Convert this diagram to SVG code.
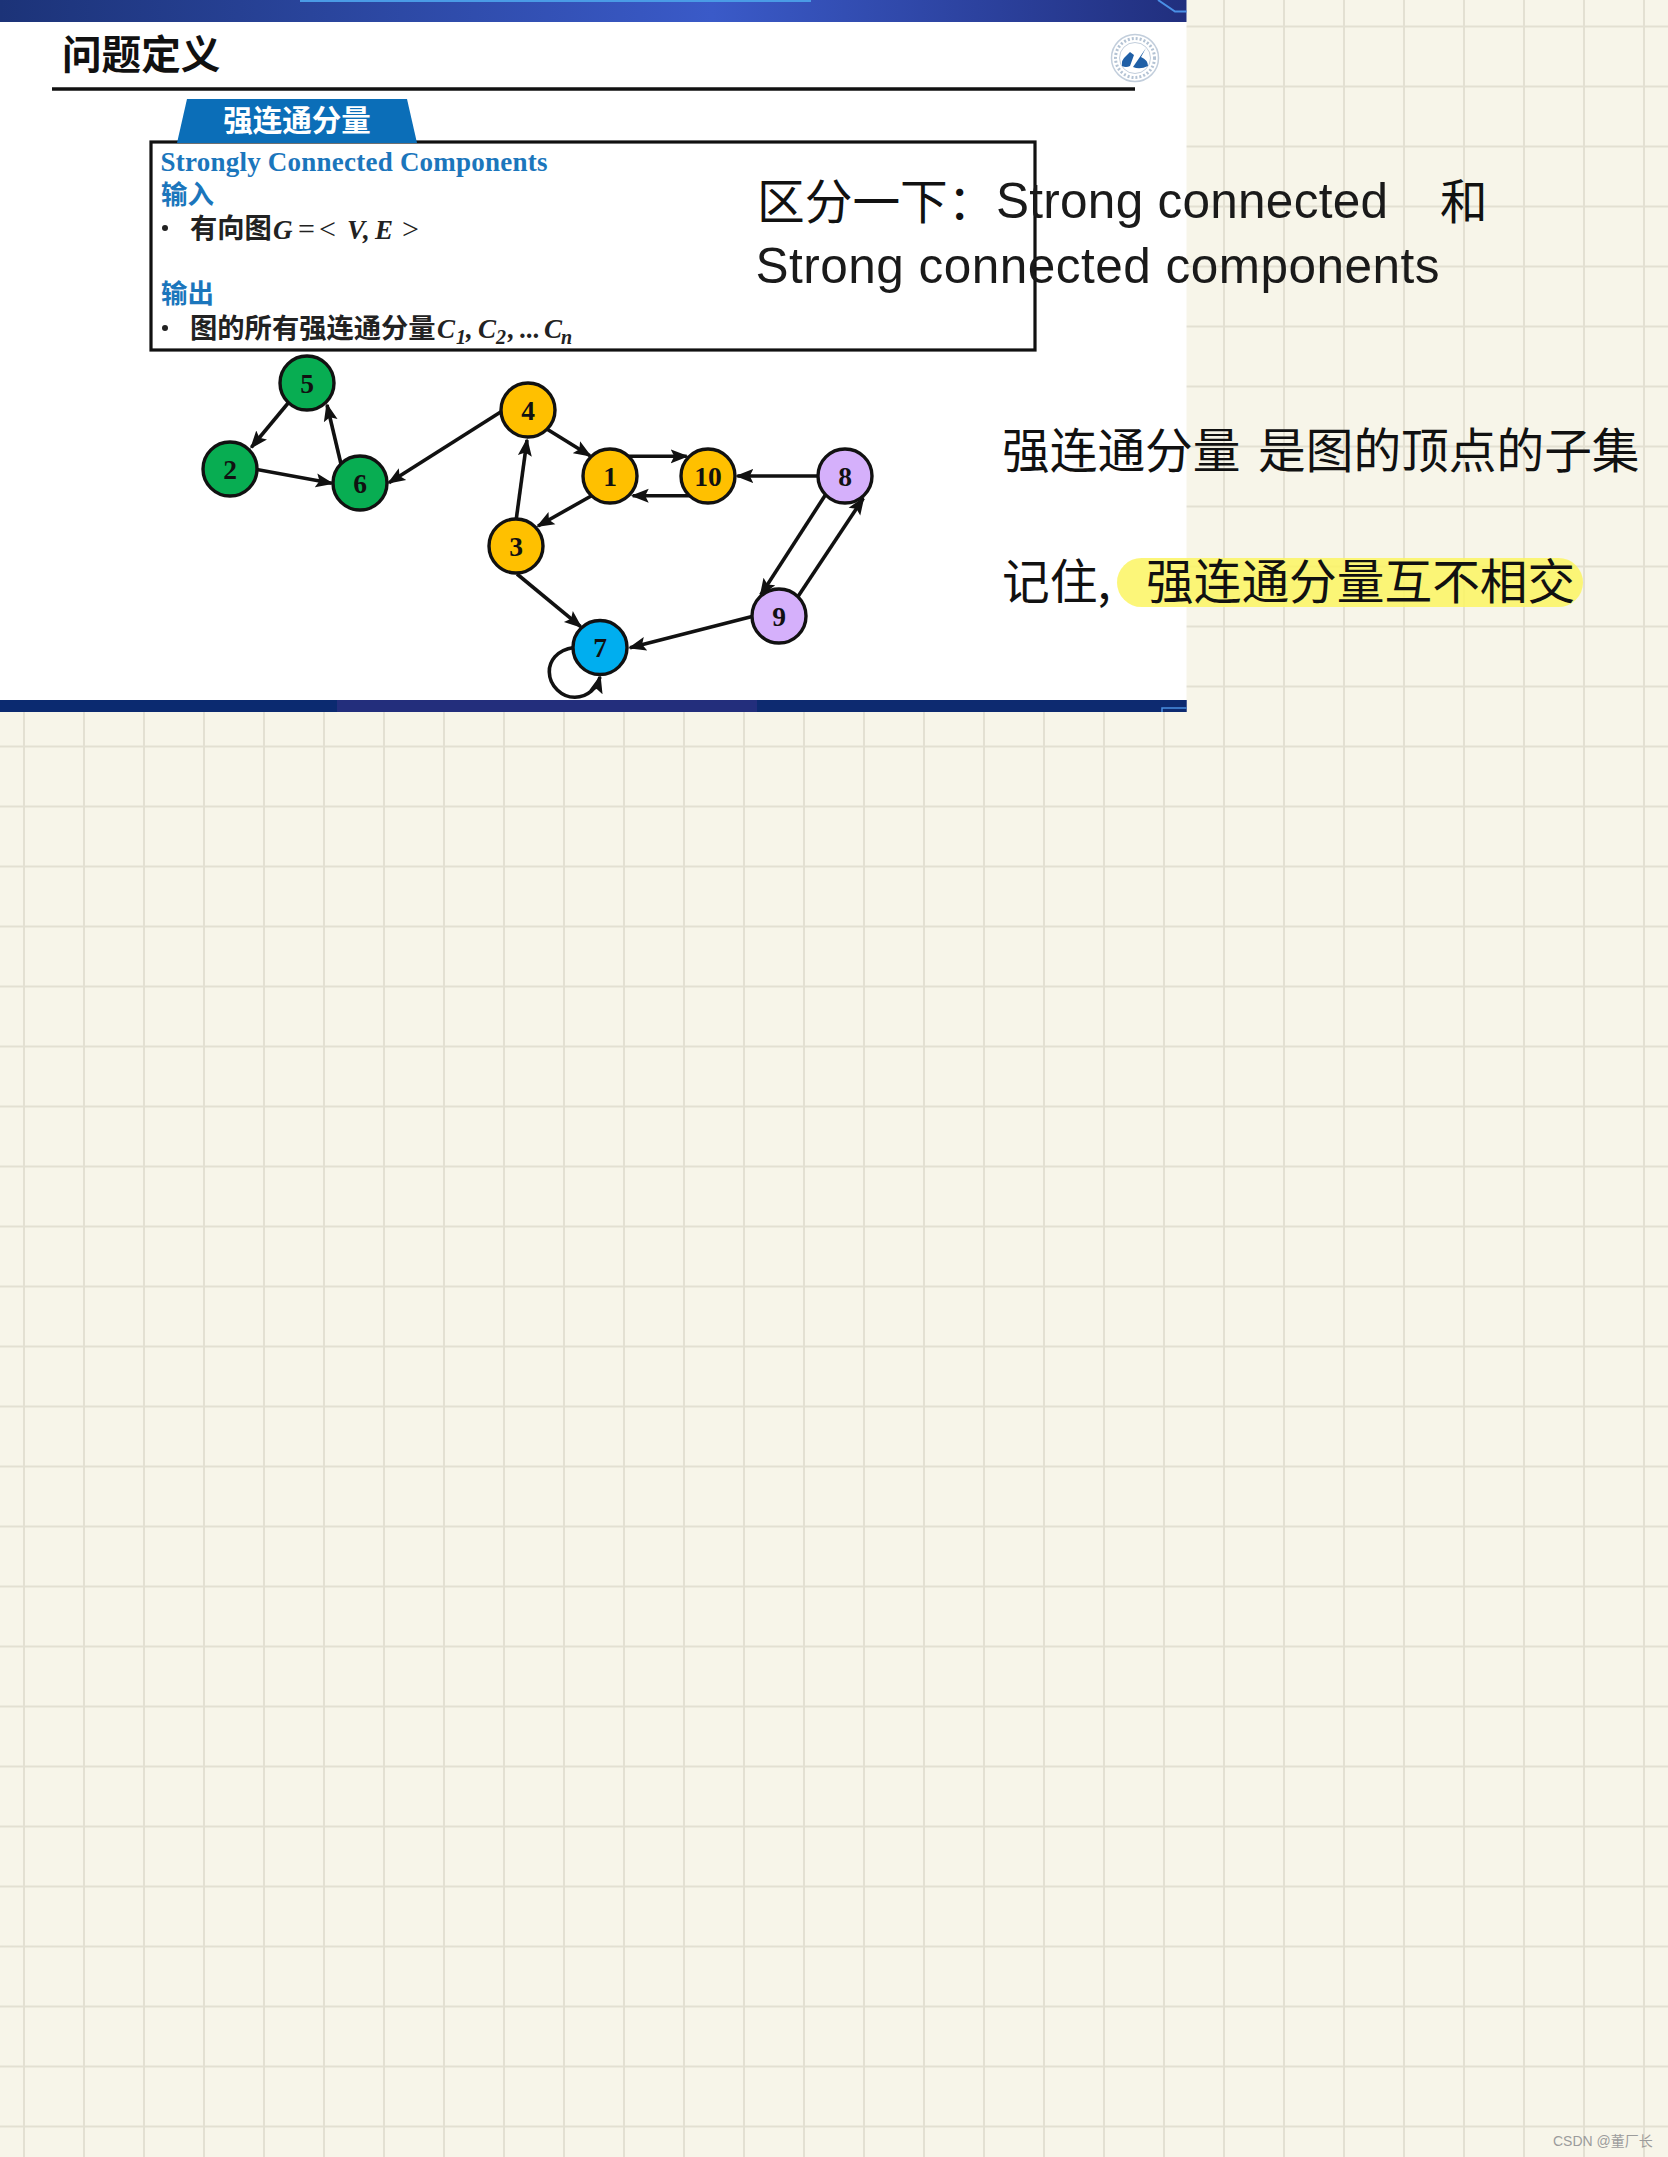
<svg xmlns="http://www.w3.org/2000/svg" width="1668" height="2157" viewBox="0 0 1668 2157">
<style>
.cjk{font-family:"Noto Sans CJK SC","Liberation Sans",sans-serif}
.cjkb{font-family:"Noto Sans CJK SC","Liberation Sans",sans-serif;font-weight:700}
.blue{fill:#1b76bc}
.serif{font-family:"Liberation Serif","Noto Sans CJK SC",serif;font-weight:700}
.mi{font-family:"Liberation Serif",serif;font-weight:700;font-style:italic;font-size:27px;fill:#222}
.sub{font-size:20px}
.note{font-family:"Liberation Sans","Noto Sans CJK SC",sans-serif;font-size:49.5px;fill:#1a1a1a}
.notec{font-family:"Noto Sans CJK SC","Liberation Sans",sans-serif;font-size:47.7px;fill:#111;font-weight:400}
.n circle{stroke:#111;stroke-width:3.4}
.n text{font-family:"Liberation Serif",serif;font-weight:700;font-size:27.5px;fill:#111;text-anchor:middle}
.g circle{fill:#08ad52}.y circle{fill:#ffc000}.b circle{fill:#00aeef}.p circle{fill:#d5b0fb}
.e path{fill:none;stroke:#111;stroke-width:3.6;marker-end:url(#arrow)}
.gl{stroke:#e3e0d2;stroke-width:2}
</style>
<defs>
<marker id="arrow" markerUnits="userSpaceOnUse" markerWidth="19" markerHeight="16" refX="16" refY="8" orient="auto">
<path d="M0,1 L18,8 L0,15 L3.5,8 Z" fill="#111"/>
</marker>
<linearGradient id="topbar" x1="0" x2="1" y1="0" y2="0">
<stop offset="0" stop-color="#1c3378"/><stop offset="0.6" stop-color="#3a5ac8"/><stop offset="1" stop-color="#212f7e"/>
</linearGradient>
<pattern id="grid" patternUnits="userSpaceOnUse" x="24" y="26.5" width="60" height="60">
<rect x="-1" y="-1" width="62" height="62" fill="#f7f5e9"/>
<path d="M0,0V60M60,0V60M0,0H60M0,60H60" class="gl" fill="none"/>
</pattern>
</defs>

<rect id="paper" width="1668" height="2157" fill="url(#grid)"/>

<g id="slide">
<rect width="1186.5" height="712" fill="#fff"/>
<rect width="1186.5" height="22" fill="url(#topbar)"/>
<path d="M300,1 H811" stroke="#4a9be6" stroke-width="2"/>
<path d="M1158,0 L1175,11.5 H1186.5" stroke="#4a90e6" stroke-width="2" fill="none"/>
<rect y="700" width="1186.5" height="12" fill="#232e7c"/>
<rect x="0" y="700" width="337" height="12" fill="#0b2a70"/>
<rect x="757" y="700" width="429.5" height="12" fill="#0d2a70"/>
<path d="M1162,712 V708 H1186.5" stroke="#4a8fe0" stroke-width="1.5" fill="none"/>
<text x="62" y="69" class="cjkb" font-size="39.6" fill="#111">问题定义</text>
<path d="M52,89 H1135" stroke="#111" stroke-width="3.4"/>
<g id="logo">
<circle cx="1135" cy="58" r="23.5" fill="#fff" stroke="#c2cedc" stroke-width="1.5"/>
<circle cx="1135" cy="58" r="19.5" fill="none" stroke="#b4c3d4" stroke-width="3" stroke-dasharray="2 2"/>
<circle cx="1135" cy="58" r="15.5" fill="#fff" stroke="#c2cedc" stroke-width="1"/>
<path d="M1122,66 Q1121,60 1126,56 L1130,52 L1134,55 L1130,66 Q1126,68 1122,66 Z" fill="#1f5fa6"/>
<path d="M1133,67 L1146,48 L1141,57 Q1148,60 1148,66 Q1140,70 1133,67 Z" fill="#1f5fa6"/>
</g>
</g>

<g id="definition-box">
<rect x="151" y="142" width="884" height="208" fill="#fff" stroke="#111" stroke-width="3.2"/>
<path d="M187,99 H407 L417,143 H177 Z" fill="#0b6eb8"/>
<text x="297" y="131" text-anchor="middle" class="cjkb" font-size="29.5" fill="#fff">强连通分量</text>
<text x="160.5" y="171" class="serif blue" font-size="27" textLength="387" lengthAdjust="spacing">Strongly Connected Components</text>
<text x="161" y="204" class="cjkb blue" font-size="26.5">输入</text>
<circle cx="165" cy="228" r="3" fill="#222"/>
<text x="190" y="238" class="cjkb" font-size="27.3" fill="#222">有向图</text>
<text class="mi" y="238.5"><tspan x="273">G</tspan><tspan x="347">V</tspan><tspan x="363">,</tspan><tspan x="375">E</tspan></text>
<text font-family="Liberation Serif,serif" font-size="30" fill="#222" y="239"><tspan x="298">=</tspan><tspan x="319">&lt;</tspan><tspan x="402">&gt;</tspan></text>
<text x="161" y="303" class="cjkb blue" font-size="26.5">输出</text>
<circle cx="165" cy="328" r="3" fill="#222"/>
<text x="190" y="338" class="cjkb" font-size="27.3" fill="#222">图的所有强连通分量</text>
<text class="mi" y="338"><tspan x="437">C</tspan><tspan x="456" dy="6" class="sub">1</tspan><tspan x="466" dy="-6">,</tspan><tspan x="478">C</tspan><tspan x="496" dy="6" class="sub">2</tspan><tspan x="508" dy="-6">,</tspan><tspan x="520">...</tspan><tspan x="544">C</tspan><tspan x="561" dy="6" class="sub">n</tspan></text>
</g>

<g id="connectors" class="e">
<path id="e5-2" d="M289,402 L251.4,447.3"/>
<path id="e6-5" d="M341,464 L327,405"/>
<path id="e2-6" d="M254,469 L331.8,483.3"/>
<path id="e4-6" d="M503,410.5 L389,482.7"/>
<path id="e4-1" d="M546,428.5 L590,455.7"/>
<path id="e3-4" d="M516,521 L527,440"/>
<path id="e1-3" d="M592,495.5 L538,526"/>
<path id="e1-10" d="M628,456.3 L686.7,456.3"/>
<path id="e10-1" d="M690,495.7 L632.7,495.7"/>
<path id="e8-10" d="M820,476 L737.3,476"/>
<path id="e8-9" d="M826,494 L760.7,595"/>
<path id="e9-8" d="M797,598 L863.3,498.3"/>
<path id="e9-7" d="M754,616 L630,647.7"/>
<path id="e3-7" d="M517,574 L580.7,626.7"/>
<path id="e7-7" d="M574,647.5 C556,650 549,662 549.3,672 C549.5,686 562,697.5 575,697.3 C588,697 597,688 600,677"/>
</g>

<g id="node5" class="n g"><circle cx="307" cy="383" r="27"/><text x="307" y="392.5">5</text></g>
<g id="node2" class="n g"><circle cx="230" cy="469" r="27"/><text x="230" y="478.5">2</text></g>
<g id="node6" class="n g"><circle cx="360" cy="483" r="27"/><text x="360" y="492.5">6</text></g>
<g id="node4" class="n y"><circle cx="528" cy="410" r="27"/><text x="528" y="419.5">4</text></g>
<g id="node1" class="n y"><circle cx="610" cy="476" r="27"/><text x="610" y="485.5">1</text></g>
<g id="node10" class="n y"><circle cx="708" cy="476" r="27"/><text x="708" y="485.5">10</text></g>
<g id="node3" class="n y"><circle cx="516" cy="546" r="27"/><text x="516" y="555.5">3</text></g>
<g id="node7" class="n b"><circle cx="600" cy="647.5" r="27"/><text x="600" y="657">7</text></g>
<g id="node8" class="n p"><circle cx="845" cy="476" r="27"/><text x="845" y="485.5">8</text></g>
<g id="node9" class="n p"><circle cx="779" cy="616" r="27"/><text x="779" y="625.5">9</text></g>

<g id="notes">
<text x="757" y="219" class="notec">区分一下：</text>
<text x="996" y="218" class="note" textLength="392" lengthAdjust="spacing">Strong connected</text>
<text x="1440" y="219" class="notec">和</text>
<text x="755.5" y="283" class="note" textLength="684" lengthAdjust="spacing">Strong connected components</text>
<text x="1002" y="468" class="notec">强连通分量</text>
<text x="1258" y="468" class="notec">是图的顶点的子集</text>
<text x="1002" y="599" class="notec">记住,</text>
<rect x="1117" y="558" width="466" height="49" rx="24.5" fill="#fbf561" fill-opacity="0.85"/>
<text x="1146" y="599" class="notec">强连通分量互不相交</text>
</g>

<text id="watermark" x="1553" y="2146" font-family="Liberation Sans,Noto Sans CJK SC,sans-serif" font-size="14" fill="#9c9c9c">CSDN @董厂长</text>
</svg>
